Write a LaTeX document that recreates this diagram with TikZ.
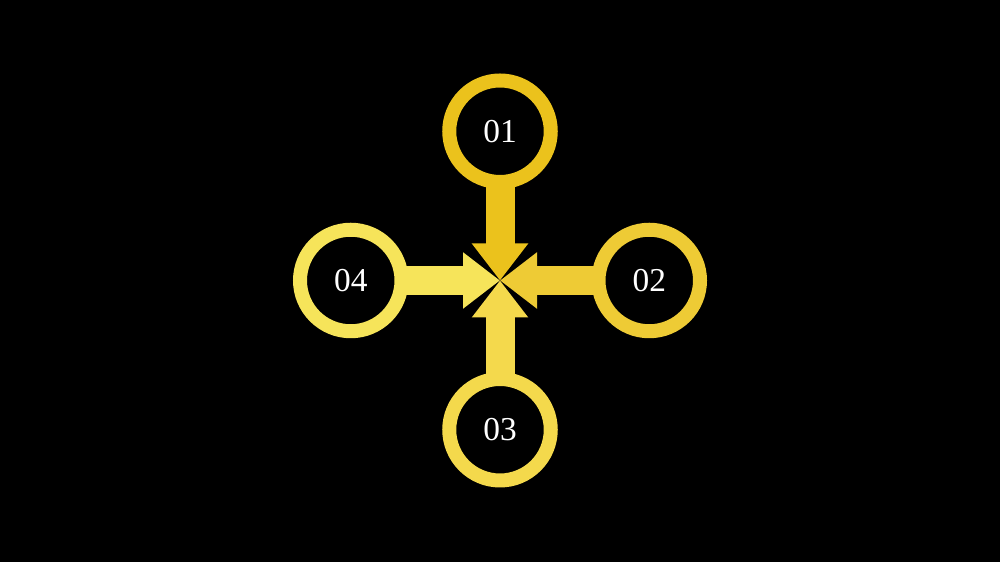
\documentclass[tikz,border=0pt]{standalone}
\usepackage{fontspec}
\setmainfont{Liberation Serif}
\usepackage{tikz}
\usetikzlibrary{arrows.meta, positioning}
\definecolor{goldA}{HTML}{EBC21C}
\definecolor{goldB}{HTML}{EECB35}
\definecolor{goldC}{HTML}{F4D94C}
\definecolor{goldD}{HTML}{F6E45A}
\tikzstyle{ring} = [circle, minimum size=2.03cm, line width=0.28cm, fill=black, text=white, font=\fontsize{19}{22}\selectfont]
\tikzstyle{arrow} = [line width=0.58cm, shorten <=-3pt, -{Triangle[width=1.08cm, length=0.74cm]}]

\begin{document}
\begin{tikzpicture}[node distance=1.83cm]
    \fill[black] (0,0) rectangle (20,11.24);
    \useasboundingbox (0,0) rectangle (20,11.24);
    \coordinate (hub) at (10,5.63);
    \node (c1) [ring, draw=goldA, above=of hub] {01};
    \node (c2) [ring, draw=goldB, right=of hub] {02};
    \node (c3) [ring, draw=goldC, below=of hub] {03};
    \node (c4) [ring, draw=goldD, left=of hub] {04};

    \draw [arrow, goldA] (c1.south) -- (hub);
    \draw [arrow, goldB] (c2.west) -- (hub);
    \draw [arrow, goldC] (c3.north) -- (hub);
    \draw [arrow, goldD] (c4.east) -- (hub);
\end{tikzpicture}
\end{document}
